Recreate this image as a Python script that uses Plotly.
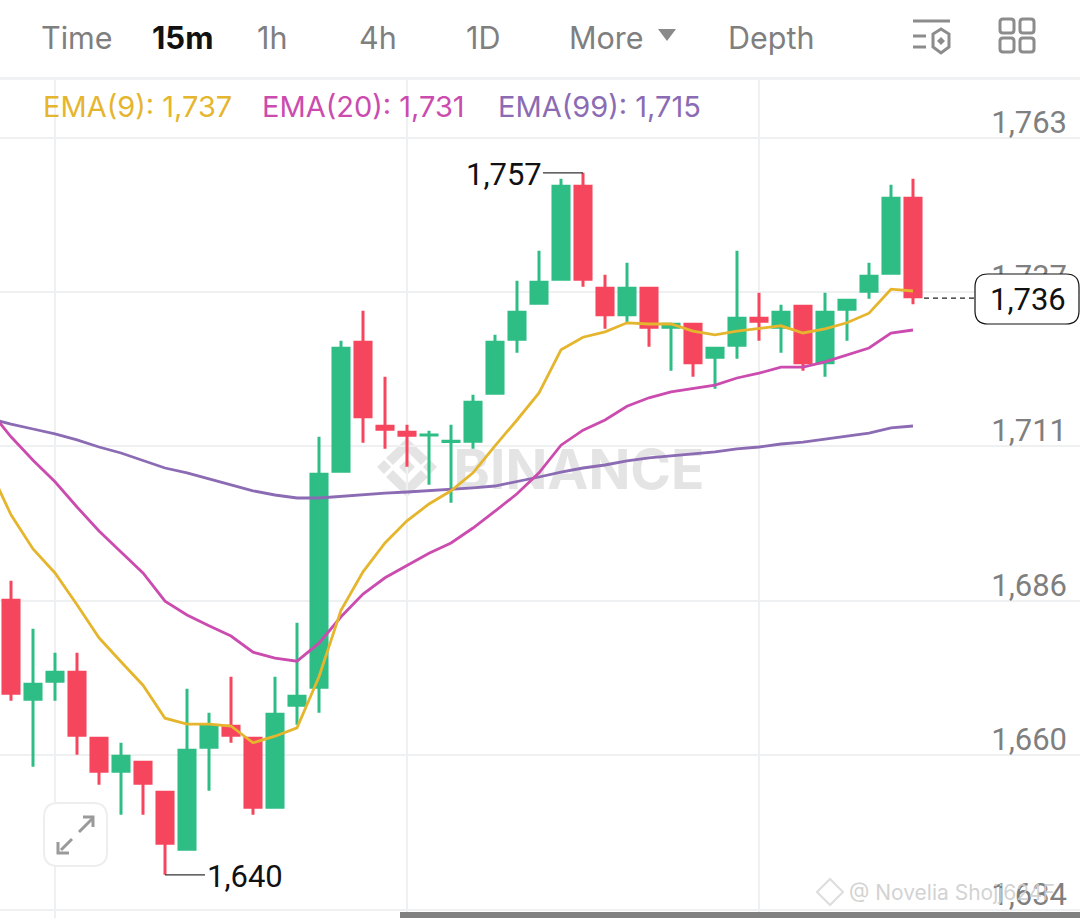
import plotly.graph_objects as go

FONT = "Inter"
NUM_FONT = "Roboto"
# candle index along the time axis
candle_index = list(range(42))
opens = [1686.2,1669.2,1672.2,1674.2,1663.2,1657.2,1659.2,1654.2,1644.2,1661.2,1665.2,1663.2,1651.2,1668.2,1671.2,1707.2,1729.2,1715.2,1714.2,1713.3,1712.2,1712.2,1720.2,1729.2,1735.2,1739.2,1755.2,1738.2,1733.3,1738.2,1731.2,1732.2,1726.2,1728.2,1733.2,1731.2,1735.2,1725.3,1734.2,1737.2,1740.2,1753.2]
highs = [1689.2,1681.2,1677.2,1677.2,1663.2,1662.2,1659.2,1654.2,1671.2,1667.2,1673.2,1663.2,1673.2,1682.2,1713.2,1729.2,1734.2,1723.2,1715.2,1714.2,1715.2,1720.2,1730.2,1739.2,1744.2,1756.2,1757.2,1740.2,1742.2,1738.2,1732.2,1732.2,1728.2,1744.2,1737.2,1735.2,1735.2,1737.2,1736.2,1742.2,1755.2,1756.2]
lows = [1669.2,1658.2,1669.2,1660.2,1655.2,1650.2,1650.2,1640.2,1644.2,1654.2,1662.2,1650.2,1651.2,1665.2,1667.2,1707.2,1712.2,1711.2,1708.2,1705.2,1702.2,1711.2,1720.2,1727.2,1735.2,1739.2,1738.2,1731.2,1732.2,1728.2,1724.2,1723.2,1721.2,1726.2,1729.2,1727.2,1724.2,1723.2,1729.2,1736.2,1740.2,1735.3]
closes = [1670.2,1672.2,1674.2,1663.2,1657.2,1660.2,1655.2,1645.2,1661.2,1665.2,1663.2,1651.2,1667.2,1670.2,1707.2,1728.2,1716.3,1714.2,1713.2,1713.7,1712.7,1719.2,1729.2,1734.2,1739.2,1755.2,1739.2,1733.3,1738.2,1731.2,1732.2,1725.3,1728.2,1733.2,1732.2,1734.2,1725.3,1734.2,1736.2,1740.2,1753.2,1736.3]

# EMA series start one candle before the first visible candle
ema_index = list(range(-1, 42))
ema9 = [1708.0,1700.2,1694.5,1690.5,1685.2,1679.7,1675.7,1671.8,1666.3,1665.3,1665.3,1665.0,1662.2,1663.3,1664.7,1673.2,1684.3,1690.7,1695.5,1699.2,1702.0,1704.2,1707.2,1711.7,1716.0,1720.5,1727.7,1729.8,1730.7,1732.2,1732.0,1732.0,1730.8,1730.2,1730.8,1731.2,1731.7,1730.5,1731.2,1732.2,1733.8,1737.8,1737.5]
ema20 = [1717.7,1713.2,1709.3,1705.7,1701.5,1697.5,1694.0,1690.5,1685.8,1683.5,1681.7,1680.0,1677.3,1676.3,1675.8,1678.8,1683.2,1687.0,1689.7,1691.8,1693.8,1695.5,1698.0,1700.8,1703.7,1707.2,1711.8,1714.3,1716.0,1718.3,1719.7,1720.7,1721.2,1721.8,1723.0,1723.8,1724.8,1724.8,1725.7,1726.8,1728.0,1730.5,1731.0]
ema99 = [1716.3,1715.3,1714.5,1713.7,1712.7,1711.5,1710.5,1709.3,1708.0,1707.2,1706.2,1705.2,1704.2,1703.5,1703.0,1703.0,1703.3,1703.6,1703.8,1704.0,1704.2,1704.5,1704.7,1705.0,1705.7,1706.5,1707.3,1708.0,1708.5,1709.2,1709.7,1710.0,1710.3,1710.7,1711.2,1711.5,1712.0,1712.3,1712.8,1713.3,1713.8,1714.7,1715.0]

y_ticks = [1763, 1737.33, 1711.67, 1685.83, 1660.17, 1634.33]
y_tick_labels = ["1,763", "1,737", "1,711", "1,686", "1,660", "1,634"]
x_grid = [2, 18, 34]
timeframes = ["Time", "15m", "1h", "4h", "1D", "More", "Depth"]
legend_labels = ["EMA(9): 1,737", "EMA(20): 1,731", "EMA(99): 1,715"]
last_price = 1736.3
last_label = "1,736"
high_label = "1,757"
low_label = "1,640"

GREEN, RED = "#2EBD85", "#F6465D"
YEL, PINK, PURP = "#E5B62D", "#CB4BAE", "#8B6BB3"
GRID = "#EFF0F1"
GRAY = "#7F7F7F"

# the 3px candle outline adds 1.5px (0.25 price units) around each body; pull body edges in to compensate
STROKE_UNITS = 0.25
def inset(o, c):
    d = min(STROKE_UNITS, abs(c - o) / 2 - 0.02)
    return (o + d, c - d) if c >= o else (o - d, c + d)
body = [inset(o, c) for o, c in zip(opens, closes)]

fig = go.Figure()
fig.add_trace(go.Candlestick(
    x=candle_index, open=[b[0] for b in body], high=highs, low=lows, close=[b[1] for b in body],
    increasing=dict(line=dict(color=GREEN, width=3), fillcolor=GREEN),
    decreasing=dict(line=dict(color=RED, width=3), fillcolor=RED),
    whiskerwidth=0, showlegend=False, hoverinfo="skip"))
for s, c in ((ema99, PURP), (ema20, PINK), (ema9, YEL)):
    fig.add_trace(go.Scatter(x=ema_index, y=s, mode="lines", showlegend=False,
                             line=dict(color=c, width=2.8), hoverinfo="skip"))

def px(x): return x / 1080
def py(y): return 1 - y / 918
def ppath(points, close=True):
    d = "M" + " L".join(f"{px(a):.5f},{py(b):.5f}" for a, b in points)
    return d + (" Z" if close else "")

shapes = []
def paper_path(points, fill=None, line=None, width=0, close=True, layer="above"):
    shapes.append(dict(type="path", xref="paper", yref="paper", path=ppath(points, close), layer=layer,
                       fillcolor=fill or "rgba(0,0,0,0)",
                       line=dict(color=line or "rgba(0,0,0,0)", width=width)))
def rrect(x0, y0, x1, y1, r, fill, line, width):
    # rounded rectangle using quadratic corners
    a, b, c, d = px(x0), px(x1), py(y0), py(y1)
    rx, ry = r / 1080, r / 918
    path = (f"M{a+rx:.5f},{c:.5f} L{b-rx:.5f},{c:.5f} Q{b:.5f},{c:.5f} {b:.5f},{c-ry:.5f} "
            f"L{b:.5f},{d+ry:.5f} Q{b:.5f},{d:.5f} {b-rx:.5f},{d:.5f} L{a+rx:.5f},{d:.5f} "
            f"Q{a:.5f},{d:.5f} {a:.5f},{d+ry:.5f} L{a:.5f},{c-ry:.5f} Q{a:.5f},{c:.5f} {a+rx:.5f},{c:.5f} Z")
    shapes.append(dict(type="path", xref="paper", yref="paper", path=path, fillcolor=fill,
                       line=dict(color=line, width=width)))

# header separator and bottom scrollbar
shapes.append(dict(type="rect", xref="paper", yref="paper", x0=0, x1=1, y0=py(80), y1=py(77),
                   fillcolor="#F1F2F3", line=dict(width=0)))
shapes.append(dict(type="rect", xref="paper", yref="paper", x0=px(400), x1=1, y0=py(918), y1=py(912),
                   fillcolor="#808080", line=dict(width=0)))

# Binance watermark (below the candles)
WM = "#E4E4E4"
def diamond(cx, cy, r):
    paper_path([(cx - r, cy), (cx, cy - r), (cx + r, cy), (cx, cy + r)], fill=WM, layer="below")
diamond(384, 467, 7); diamond(430, 467, 7); diamond(407, 467, 8)
paper_path([(407, 438), (428, 458), (421, 465), (407, 451), (393, 465), (386, 458)], fill=WM, layer="below")
paper_path([(407, 497), (428, 477), (421, 470), (407, 484), (393, 470), (386, 477)], fill=WM, layer="below")
shapes.append(dict(type="rect", xref="paper", yref="paper", x0=px(452), x1=px(706), y0=py(490), y1=py(444),
                   layer="below", fillcolor="rgba(0,0,0,0)", line=dict(width=0),
                   label=dict(text="<b>BINANCE</b>", textposition="middle center",
                              font=dict(family=FONT, size=55, color=WM))))

# leader lines of the high/low labels and last-price line
H, L = max(highs), min(lows)
shapes.append(dict(type="line", xref="x", yref="y", x0=highs.index(H), x1=highs.index(H) - 1.82, y0=H, y1=H,
                   line=dict(color="#333333", width=1.2)))
shapes.append(dict(type="line", xref="x", yref="y", x0=lows.index(L), x1=lows.index(L) + 1.82, y0=L, y1=L,
                   line=dict(color="#333333", width=1.2)))
shapes.append(dict(type="line", xref="x", yref="y", x0=41.5, x1=44.5, y0=last_price, y1=last_price,
                   line=dict(color="#222222", width=1.3, dash="5px,4px")))

# last price tag
rrect(975, 274, 1079, 324, 13, "white", "#111111", 1.2)

# expand button
rrect(44, 803, 107, 866, 14, "white", "#EEEEEE", 2)
paper_path([(61, 850), (72, 839)], line="#9A9A9A", width=3, close=False)
paper_path([(58, 842), (58, 853), (69, 853)], line="#9A9A9A", width=3, close=False)
paper_path([(79, 832), (93, 818)], line="#9A9A9A", width=3, close=False)
paper_path([(83, 817), (93, 817), (93, 827)], line="#9A9A9A", width=3, close=False)

# "More" triangle
paper_path([(658, 29), (676, 29), (667, 41)], fill="#8A8A8A")
# settings-style icon
ICON = "#8C8C8C"
paper_path([(913, 21), (950, 21)], line=ICON, width=3, close=False)
paper_path([(913, 36), (926, 36)], line=ICON, width=3, close=False)
paper_path([(913, 47), (926, 47)], line=ICON, width=3, close=False)
paper_path([(941, 29), (949, 34), (949, 47), (941, 53), (933, 47), (933, 34)], line=ICON, width=3)
paper_path([(941, 37), (945, 41), (941, 45), (937, 41)], fill=ICON)
# grid icon
for x0, y0 in ((1000, 19), (1020, 19), (1000, 38), (1020, 38)):
    rrect(x0, y0, x0 + 14, y0 + 14, 3, "rgba(0,0,0,0)", ICON, 3)

ann = []
def label(text, x, y, size, color, anchor="left", family=FONT):
    ann.append(dict(text=text, xref="paper", yref="paper", x=px(x), y=py(y), xanchor=anchor, yanchor="middle",
                    showarrow=False, font=dict(family=family, size=size, color=color)))
tf_x = [39, 150, 255, 357, 464, 567, 726]
for t, x in zip(timeframes, tf_x):
    if t == "15m":
        label(f"<b>{t}</b>", x, 37, 31, "#111111")
    else:
        label(t, x, 37, 30.5, GRAY)
for t, x, c in zip(legend_labels, (41, 260, 496), (YEL, PINK, PURP)):
    label(t, x, 106, 29, c)
label(last_label, 1028, 300, 31, "#111111", anchor="center", family=NUM_FONT)
label(high_label, 464, 174, 31, "#111111", family=NUM_FONT)
label(low_label, 205, 876, 31, "#111111", family=NUM_FONT)
label("@ Novelia Shojj624F", 847, 892, 21, "rgba(205,205,205,0.9)")
for a, b in [(830, 892)]:
    paper_path([(a, b - 13), (a + 13, b), (a, b + 13), (a - 13, b)], fill=None, line="#DDDDDD", width=2)

fig.update_layout(
    width=1080, height=918, margin=dict(l=0, r=0, t=0, b=0),
    paper_bgcolor="white", plot_bgcolor="white", showlegend=False,
    boxgap=0.27, boxgroupgap=0,
    shapes=shapes, annotations=ann,
    xaxis=dict(range=[-0.5, 48.591], tickvals=x_grid, showticklabels=False, ticks="",
               showgrid=True, gridcolor=GRID, gridwidth=1.5, zeroline=False,
               rangeslider=dict(visible=False), showline=False),
    yaxis=dict(domain=[0, 1 - 78 / 918], range=[1633, 1773], side="right", tickvals=y_ticks, ticktext=y_tick_labels,
               ticklabelposition="inside", ticklabelshift=-16, ticklabelstandoff=10, ticks="",
               tickfont=dict(family=NUM_FONT, size=31, color=GRAY), ticklabeloverflow="allow",
               showgrid=True, gridcolor=GRID, gridwidth=2, zeroline=False, showline=False),
)
fig.write_html("out.html", config={"displayModeBar": False}, post_script="document.body.style.margin='0';")
